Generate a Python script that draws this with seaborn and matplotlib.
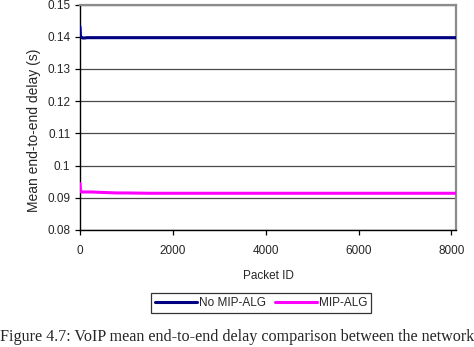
import matplotlib
matplotlib.use("Agg")
import matplotlib.pyplot as plt
import seaborn as sns
import pandas as pd

# Mean end-to-end delay (s) sampled along the packet sequence
packet_id = [0, 10, 30, 60, 100, 150, 250, 400, 600, 800, 1000, 1500,
             2000, 3000, 4000, 5000, 6000, 7000, 8100]
no_mip_alg = [0.1431, 0.1402, 0.1398, 0.1396, 0.1396, 0.1397, 0.1397, 0.1397,
              0.1397, 0.1397, 0.1397, 0.1397, 0.1397, 0.1397, 0.1397, 0.1397,
              0.1397, 0.1397, 0.1397]
mip_alg = [0.0944, 0.0922, 0.0918, 0.0918, 0.0918, 0.0918, 0.0918, 0.0917,
           0.0916, 0.0915, 0.0915, 0.0914, 0.0914, 0.0914, 0.0914, 0.0914,
           0.0914, 0.0914, 0.0914]

series_names = ["No MIP-ALG", "MIP-ALG"]
series_colors = ["#000080", "#FF00FF"]
y_ticks = [0.08, 0.09, 0.1, 0.11, 0.12, 0.13, 0.14, 0.15]
y_tick_labels = ["0.08", "0.09", "0.1", "0.11", "0.12", "0.13", "0.14", "0.15"]
x_ticks = [0, 2000, 4000, 6000, 8000]

df = pd.DataFrame({
    "Packet ID": packet_id * 2,
    "delay": no_mip_alg + mip_alg,
    "series": [series_names[0]] * len(packet_id) + [series_names[1]] * len(packet_id),
})

sns.set_style("white")
plt.rcParams["font.family"] = ["Liberation Sans", "DejaVu Sans"]

fig = plt.figure(figsize=(4.74, 3.47), dpi=100)
ax = fig.add_axes([80 / 474, 1 - 230 / 347, (456 - 80) / 474, (230 - 4.5) / 347])

sns.lineplot(data=df, x="Packet ID", y="delay", hue="series",
             palette=dict(zip(series_names, series_colors)),
             linewidth=2.2, ax=ax, legend=False, zorder=3)

ax.set_xlim(0, 8100)
ax.set_ylim(0.08, 0.15)
ax.set_yticks(y_ticks)
ax.set_yticklabels(y_tick_labels)
ax.set_xticks(x_ticks)
ax.tick_params(axis="both", labelsize=8.5, direction="out", length=3.5,
               width=0.9, color="black", left=True, bottom=True)
ax.tick_params(axis="x", pad=7.5)
ax.tick_params(axis="y", pad=3.5)

ax.grid(axis="y", color="#4a4a4a", linewidth=0.9)
ax.set_axisbelow(True)
for side in ("left", "bottom"):
    ax.spines[side].set_color("black")
    ax.spines[side].set_linewidth(1.0)
for side in ("top", "right"):
    ax.spines[side].set_visible(True)
    ax.spines[side].set_color("#8c8c8c")
    ax.spines[side].set_linewidth(1.6)

ax.set_xlabel("Packet ID", fontsize=8.5, labelpad=9)
ax.set_ylabel("Mean end-to-end delay (s)", fontsize=10)
ax.yaxis.set_label_coords(-0.105, 0.44)

handles = [plt.Line2D([], [], color=c, linewidth=2.2) for c in series_colors]
leg = fig.legend(handles, series_names, loc="center",
                 bbox_to_anchor=(261 / 474, 1 - 303 / 347), ncol=2,
                 fontsize=8.5, frameon=True, fancybox=False, handlelength=3.6,
                 handletextpad=0.1, columnspacing=0.8, borderpad=0.35)
leg.get_frame().set_edgecolor("black")
leg.get_frame().set_linewidth(0.9)

fig.text(0.0, 1 - 341 / 347,
         "Figure 4.7: VoIP mean end-to-end delay comparison between the network",
         ha="left", va="baseline", fontsize=11.6,
         family=["Liberation Serif", "DejaVu Serif"])

fig.savefig("out.png", dpi=100)
